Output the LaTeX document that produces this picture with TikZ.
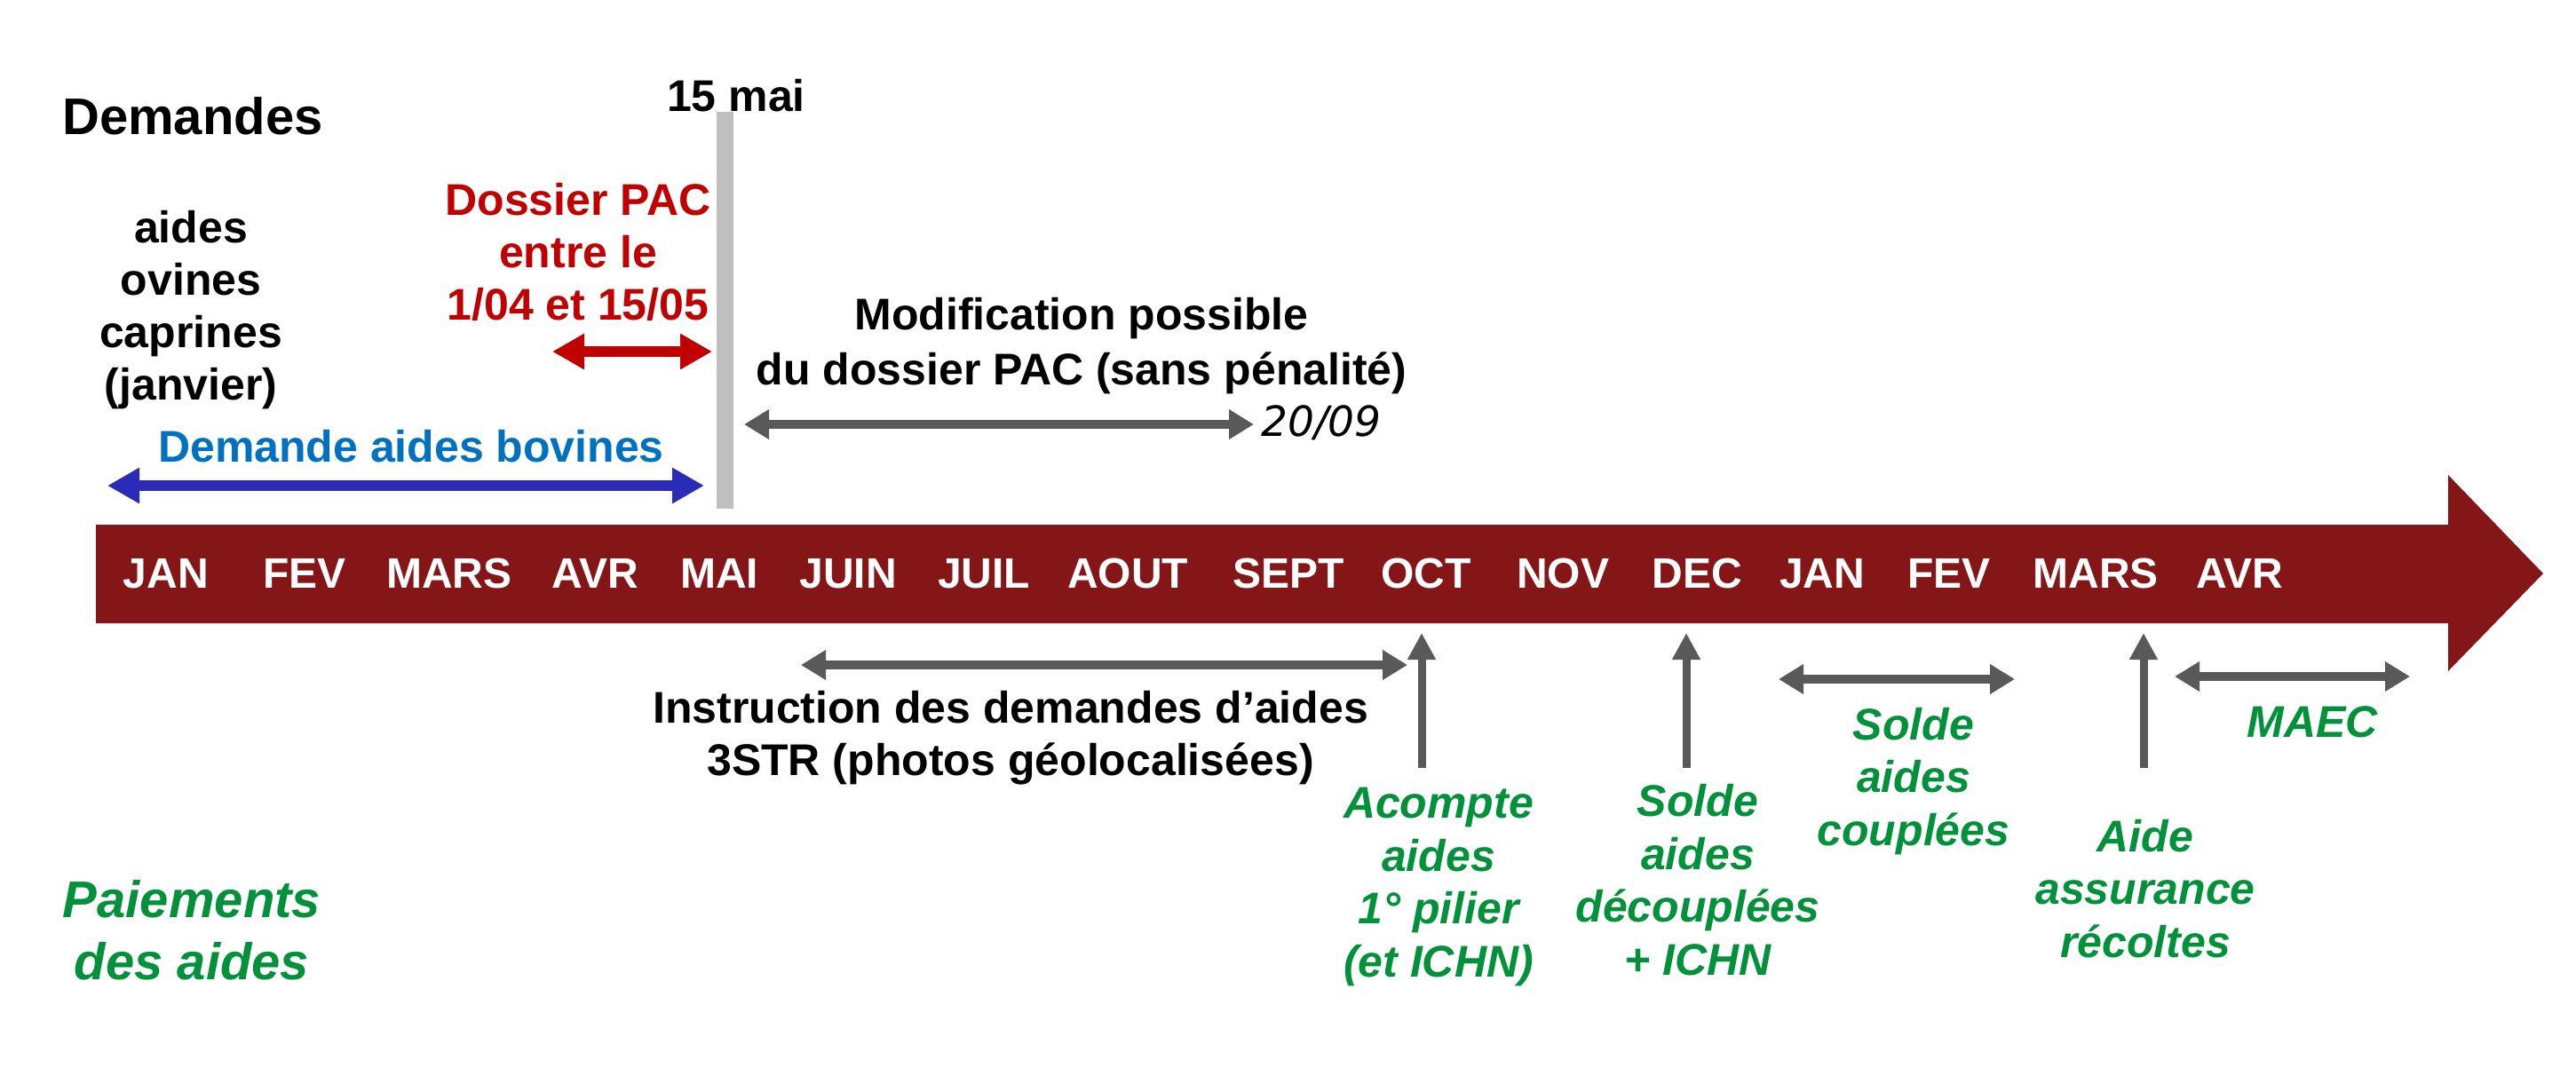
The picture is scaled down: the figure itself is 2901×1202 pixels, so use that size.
\documentclass[tikz,border=0pt]{standalone}
\usepackage{fontspec}
\setmainfont{Liberation Sans}
\newfontfamily\datefont{DejaVu Sans}
\usetikzlibrary{arrows.meta}
\definecolor{bannerred}{RGB}{132,22,23}
\definecolor{arrowgray}{RGB}{89,89,89}
\definecolor{bargray}{RGB}{191,191,191}
\definecolor{pacred}{RGB}{192,0,0}
\definecolor{bovblue}{RGB}{0,112,192}
\definecolor{bovarrow}{RGB}{43,43,185}
\definecolor{paygreen}{RGB}{0,145,58}
\begin{document}
\begin{tikzpicture}[x=1bp,y=-1bp,
  txt/.style={inner sep=0pt, align=center, anchor=base, font=\fontsize{50bp}{59bp}\selectfont\bfseries},
  bigtxt/.style={inner sep=0pt, align=center, anchor=base, font=\fontsize{58bp}{70bp}\selectfont\bfseries},
  grn/.style={text=paygreen, font=\fontsize{50bp}{59.5bp}\selectfont\bfseries\itshape},
  month/.style={inner sep=0pt, anchor=base, text=white, font=\fontsize{48bp}{58bp}\selectfont\bfseries},
  garrow/.style={draw=arrowgray, line width=10bp, {Triangle[length=28bp,width=32bp]}-{Triangle[length=28bp,width=32bp]}},
  uparrow/.style={draw=arrowgray, line width=9bp, -{Triangle[length=30bp,width=30bp]}},
  bigarrow/.style={line width=12bp, {Triangle[length=36bp,width=38bp]}-{Triangle[length=36bp,width=38bp]}}
]
\useasboundingbox (0,0) rectangle (2901,1202);
\fill[white] (0,0) rectangle (2901,1202);

% banner arrow
\fill[bannerred] (108,591) -- (2757,591) -- (2757,535) -- (2864,646) -- (2757,756) -- (2757,702) -- (108,702) -- cycle;

% months
\foreach \n/\x/\m in {m1/187/JAN, m2/343/FEV, m3/506/MARS, m4/670/AVR, m5/810/MAI, m6/955/JUIN, m7/1108/JUIL, m8/1270/AOUT, m9/1451/SEPT, m10/1606/OCT, m11/1760/NOV, m12/1911/DEC, m13/2052/JAN, m14/2195/FEV, m15/2360/MARS, m16/2522/AVR}
  \node[month] (\n) at (\x,662) {\m};

% 15 mai bar
\fill[bargray] (807,126) rectangle (826,573);
\node[txt] (mai15) at (829,125) {15 mai};

% top texts (base anchor = baseline of the last line)
\node[bigtxt, anchor=base west] (dem) at (70,151) {Demandes};
\node[txt] (ovins) at (215,450) {aides\\ovines\\caprines\\(janvier)};
\node[txt, text=pacred] (pac) at (651,360) {Dossier PAC\\entre le\\1/04 et 15/05};
\node[txt, text=bovblue] (bov) at (463,520) {Demande aides bovines};
\node[txt, font=\fontsize{50bp}{62bp}\selectfont\bfseries] (modif) at (1218,433) {Modification possible\\du dossier PAC (sans pénalité)};
\node[inner sep=0pt, anchor=base west, font=\fontsize{47bp}{56bp}\selectfont\datefont\itshape] (date) at (1420,491) {20/09};

% top arrows
\coordinate (redL) at (622,396); \coordinate (redR) at (802,396);
\draw[bigarrow, draw=pacred] (redL) -- (redR);
\coordinate (bluL) at (121,547); \coordinate (bluR) at (793,547);
\draw[bigarrow, draw=bovarrow] (bluL) -- (bluR);
\coordinate (modL) at (838,478); \coordinate (modR) at (1412,478);
\draw[garrow] (modL) -- (modR);

% bottom arrows
\coordinate (insL) at (902,749); \coordinate (insR) at (1585,749);
\draw[garrow] (insL) -- (insR);
\coordinate (coupL) at (2003,765); \coordinate (coupR) at (2269,765);
\draw[garrow] (coupL) -- (coupR);
\coordinate (maecL) at (2449,762); \coordinate (maecR) at (2714,762);
\draw[garrow] (maecL) -- (maecR);
\coordinate (octB) at (1601,865); \coordinate (octT) at (1601,713);
\draw[uparrow] (octB) -- (octT);
\coordinate (decB) at (1899,865); \coordinate (decT) at (1899,713);
\draw[uparrow] (decB) -- (decT);
\coordinate (marB) at (2414,865); \coordinate (marT) at (2414,713);
\draw[uparrow] (marB) -- (marT);

% bottom texts
\node[txt] (instr) at (1138,873) {Instruction des demandes d’aides\\3STR (photos géolocalisées)};
\node[txt, grn] (acompte) at (1620,1100) {Acompte\\aides\\1° pilier\\(et ICHN)};
\node[txt, grn] (decoup) at (1912,1098) {Solde\\aides\\découplées\\+ ICHN};
\node[txt, grn] (coup) at (2155,952) {Solde\\aides\\couplées};
\node[txt, grn] (assur) at (2416,1078) {Aide\\assurance\\récoltes};
\node[txt, grn] (maec) at (2604,830) {MAEC};
\node[bigtxt, text=paygreen, font=\fontsize{58bp}{70bp}\selectfont\bfseries\itshape] (paie) at (216,1103) {Paiements\\des aides};
\end{tikzpicture}
\end{document}
